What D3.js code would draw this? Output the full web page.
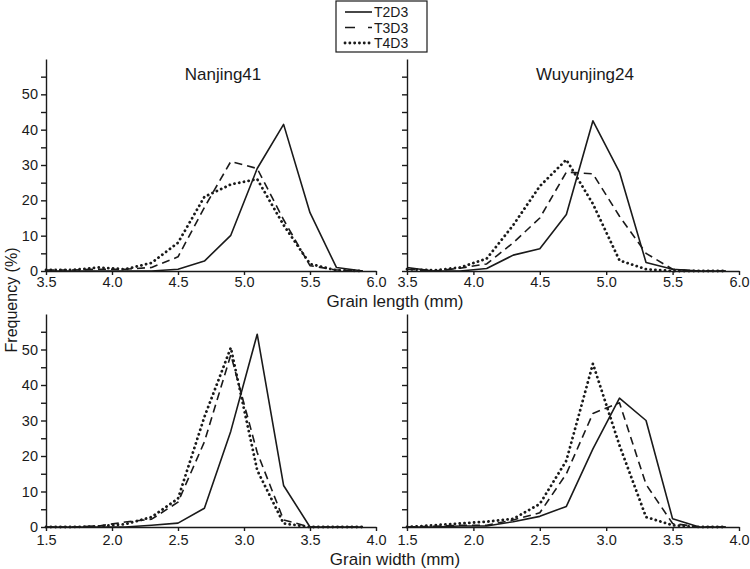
<!DOCTYPE html>
<html>
<head>
<meta charset="utf-8">
<script src="https://cdn.jsdelivr.net/npm/d3@7"></script>
<style>
  body { margin: 0; background: #fff; }
  text { font-family: "Liberation Sans", Arial, sans-serif; fill: #1a1a1a; }
</style>
</head>
<body>
<div id="chart"></div>
<script>
// x values (mm) of the frequency points
const lengthX = [3.5, 3.7, 3.9, 4.1, 4.3, 4.5, 4.7, 4.9, 5.1, 5.3, 5.5, 5.7, 5.9];
const widthX  = [1.5, 1.7, 1.9, 2.1, 2.3, 2.5, 2.7, 2.9, 3.1, 3.3, 3.5, 3.7, 3.9];

// frequency (%) - grain length
const njLenT2D3 = [0, 0, 0, 0, 0, 0.5, 2.8, 10.1, 29, 41.5, 16.5, 1, 0];
const njLenT3D3 = [0.3, 0.3, 0.5, 0.5, 1, 4, 18, 31, 29, 14.5, 1.5, 0.3, 0];
const njLenT4D3 = [0.3, 0.3, 1, 0.5, 2.3, 8, 21, 24.5, 26, 13, 2, 0.2, 0];
const wyLenT2D3 = [1, 0, 0, 0.7, 4.5, 6.3, 16, 42.5, 28, 2.4, 0.5, 0, 0];
const wyLenT3D3 = [0.5, 0, 0.8, 2, 8, 15, 28, 27.5, 15.5, 5, 0.5, 0, 0];
const wyLenT4D3 = [0.5, 0.2, 1, 3.5, 13, 24, 31.5, 19, 3, 0.5, 0, 0, 0];

// frequency (%) - grain width
const njWidT2D3 = [0, 0, 0, 0, 0.5, 1.1, 5.3, 27, 54.3, 11.7, 0, 0, 0];
const njWidT3D3 = [0, 0, 0.3, 1.4, 2.2, 7, 24, 48.5, 21, 2, 0, 0, 0];
const njWidT4D3 = [0, 0, 0.2, 0.8, 2.8, 8, 31, 50.5, 16, 1, 0, 0, 0];
const wyWidT2D3 = [0, 0, 0.3, 0.3, 1.5, 3, 5.8, 22, 36.3, 30, 2.3, 0, 0];
const wyWidT3D3 = [0, 0.2, 0.5, 0.5, 2, 4, 15, 32, 35, 12, 1, 0, 0];
const wyWidT4D3 = [0, 0.5, 1, 1.5, 2.3, 6.5, 18.7, 46, 23, 2.8, 0.5, 0, 0];

const seriesNames = ["T2D3", "T3D3", "T4D3"];
const varieties = ["Nanjing41", "Wuyunjing24"];
const lengthTicks = [3.5, 4.0, 4.5, 5.0, 5.5, 6.0];
const widthTicks = [1.5, 2.0, 2.5, 3.0, 3.5, 4.0];
const freqTicks = [0, 5, 10, 15, 20, 25, 30, 35, 40, 45, 50, 55];

// panneaux
const panels = [
  { col: 0, row: 0, xs: lengthX, ticks: lengthTicks, ys: [njLenT2D3, njLenT3D3, njLenT4D3], title: varieties[0] },
  { col: 1, row: 0, xs: lengthX, ticks: lengthTicks, ys: [wyLenT2D3, wyLenT3D3, wyLenT4D3], title: varieties[1] },
  { col: 0, row: 1, xs: widthX, ticks: widthTicks, ys: [njWidT2D3, njWidT3D3, njWidT4D3] },
  { col: 1, row: 1, xs: widthX, ticks: widthTicks, ys: [wyWidT2D3, wyWidT3D3, wyWidT4D3] }
];

const colRange = [[46, 376], [407, 739]];
const rowRange = [[271, 59], [527, 314]];

const styles = {
  T2D3: { width: 1.6, dash: null, cap: "butt" },
  T3D3: { width: 1.6, dash: "8,5", cap: "butt" },
  T4D3: { width: 2.8, dash: "0.1,4.7", cap: "round" }
};

const svg = d3.select("#chart").append("svg")
  .attr("width", 750)
  .attr("height", 569);

panels.forEach(p => {
  const x = d3.scaleLinear().domain([p.ticks[0], p.ticks[p.ticks.length - 1]]).range(colRange[p.col]);
  const y = d3.scaleLinear().domain([0, 60]).range(rowRange[p.row]);
  const g = svg.append("g");

  // axe x
  g.append("g")
    .attr("transform", `translate(0,${y(0)})`)
    .style("font-size", "14.5px")
    .call(d3.axisBottom(x)
      .tickValues(p.ticks)
      .tickFormat(d3.format(".1f"))
      .tickSize(4)
      .tickSizeOuter(0)
      .tickPadding(p.row === 0 ? 2 : 4));

  // axe y
  g.append("g")
    .attr("transform", `translate(${x.range()[0]},0)`)
    .style("font-size", "14.5px")
    .call(d3.axisLeft(y)
      .tickValues(freqTicks)
      .tickFormat(d => (p.col === 0 && d % 10 === 0) ? d : "")
      .tickSize(5)
      .tickSizeOuter(0)
      .tickPadding(3));

  g.selectAll(".domain, .tick line").attr("stroke", "#1a1a1a").attr("stroke-width", 1.4);
  g.selectAll(".tick text").attr("fill", "#1a1a1a");

  const line = d3.line()
    .x((d, i) => x(p.xs[i]))
    .y(d => y(d));

  p.ys.forEach((vals, k) => {
    const st = styles[seriesNames[k]];
    g.append("path")
      .datum(vals)
      .attr("fill", "none")
      .attr("stroke", "#1a1a1a")
      .attr("stroke-width", st.width)
      .attr("stroke-dasharray", st.dash)
      .attr("stroke-linecap", st.cap)
      .attr("stroke-linejoin", "round")
      .attr("d", line);
  });

  if (p.title) {
    g.append("text")
      .attr("x", d3.mean(x.range()) + 12)
      .attr("y", 80)
      .attr("text-anchor", "middle")
      .style("font-size", "17px")
      .text(p.title);
  }
});

// titres des axes
svg.append("text")
  .attr("x", 395).attr("y", 307)
  .attr("text-anchor", "middle")
  .style("font-size", "17px")
  .text("Grain length (mm)");

svg.append("text")
  .attr("x", 395).attr("y", 565)
  .attr("text-anchor", "middle")
  .style("font-size", "17px")
  .text("Grain width (mm)");

svg.append("text")
  .attr("transform", "translate(17,300) rotate(-90)")
  .attr("text-anchor", "middle")
  .style("font-size", "16px")
  .text("Frequency (%)");

// légende
const legend = svg.append("g");
legend.append("rect")
  .attr("x", 336).attr("y", 1)
  .attr("width", 91).attr("height", 51)
  .attr("fill", "#fff")
  .attr("stroke", "#1a1a1a")
  .attr("stroke-width", 1.2);

seriesNames.forEach((name, k) => {
  const st = styles[name];
  const yy = 12 + k * 15.5;
  legend.append("line")
    .attr("x1", 345).attr("x2", 372)
    .attr("y1", yy).attr("y2", yy)
    .attr("stroke", "#1a1a1a")
    .attr("stroke-width", st.width)
    .attr("stroke-dasharray", name === "T3D3" ? "10,13" : st.dash)
    .attr("stroke-linecap", st.cap);
  legend.append("text")
    .attr("x", 374).attr("y", yy + 5)
    .style("font-size", "14px")
    .text(name);
});
</script>
</body>
</html>
